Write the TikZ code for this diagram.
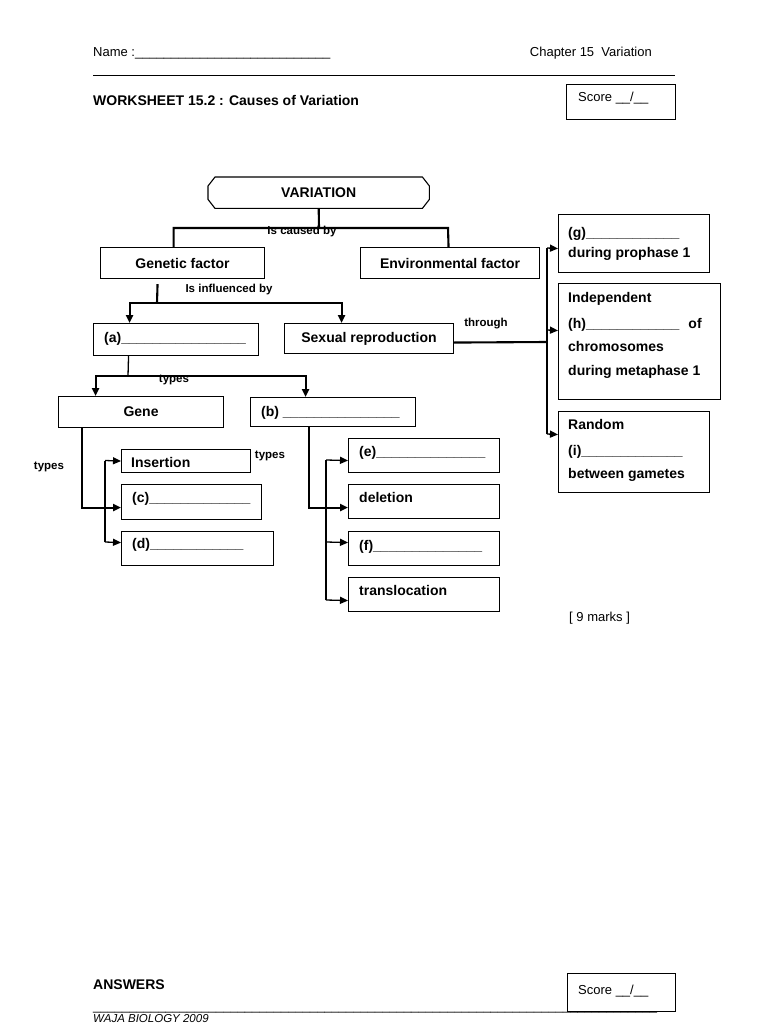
\documentclass[tikz,border=0pt]{standalone}
\usepackage{fontspec}
\setmainfont{Liberation Sans}
\usetikzlibrary{arrows.meta}
\newcommand\US[1]{\foreach\ui in {1,...,#1}{\_}}
\begin{document}
\begin{tikzpicture}[x=1pt,y=-1pt,
  box/.style={draw, line width=1.1pt, inner sep=0pt, anchor=north west},
  bf/.style={font=\bfseries\fontsize{14}{16}\selectfont},
  bt/.style={bf, inner sep=0pt, anchor=base west},
  nt/.style={font=\fontsize{13}{15}\selectfont, inner sep=0pt, anchor=base west},
  st/.style={font=\bfseries\fontsize{11.5}{13}\selectfont, inner sep=0pt, anchor=center},
  conn/.style={line width=2.1pt},
  thinc/.style={line width=1.3pt},
  arr/.style={-{Triangle[length=8pt,width=7pt]}}
]
\useasboundingbox (0,0) rectangle (768,1024);
\fill[white] (0,0) rectangle (768,1024);

% header
\node[nt] (name) at (93,57) {Name :\US{27}};
\node[nt, anchor=base east] (chap) at (652,57) {Chapter 15~ Variation};
\coordinate (rulel) at (93,76);
\coordinate (ruler) at (675,76);
\draw[line width=1pt] (rulel) -- (ruler);
\node[bt] (title) at (93,106) {WORKSHEET 15.2 : Causes of Variation};
\node[box, minimum width=109pt, minimum height=35pt] (score) at (566,84) {};
\node[nt] (scoret) at (578,102) {Score \_\_/\_\_};

% top boxes
\node[inner sep=0pt, anchor=north west, minimum width=221pt, minimum height=31pt, bf] (var) at (208,177) {VARIATION};
\draw[line width=1.1pt] ([xshift=7pt]var.north west) -- ([xshift=-7pt]var.north east)
  -- ([yshift=-9pt]var.north east) -- ([yshift=9pt]var.south east)
  -- ([xshift=-7pt]var.south east) -- ([xshift=7pt]var.south west)
  -- ([yshift=9pt]var.south west) -- ([yshift=-9pt]var.north west) -- cycle;
\node[box, minimum width=164pt, minimum height=31pt, bf] (gen) at (100,247) {Genetic factor};
\node[box, minimum width=179pt, minimum height=31pt, bf] (env) at (360,247) {Environmental factor};
\node[box, minimum width=165pt, minimum height=32pt] (a) at (93,323) {};
\node[bt] (at) at (104,342) {(a)\US{16}};
\node[box, minimum width=169pt, minimum height=30pt, bf] (sex) at (284,323) {Sexual reproduction};

% right boxes
\node[box, minimum width=151pt, minimum height=58pt] (g) at (558,214) {};
\node[bt] (g1) at (568,237) {(g)\US{12}};
\node[bt] (g2) at (568,257) {during prophase 1};
\node[box, minimum width=162pt, minimum height=116pt] (h) at (558,283) {};
\node[bt] (h1) at (568,302) {Independent};
\node[bt] (h2) at (568,328) {(h)\US{12}\hspace{9pt}of};
\node[bt] (h3) at (568,351) {chromosomes};
\node[bt] (h4) at (568,375) {during metaphase 1};
\node[box, minimum width=151pt, minimum height=81pt] (i) at (558,411) {};
\node[bt] (i1) at (568,429) {Random};
\node[bt] (i2) at (568,455) {(i)\US{13}};
\node[bt] (i3) at (568,478) {between gametes};

% lower boxes
\node[box, minimum width=165pt, minimum height=31pt, bf] (gene) at (58,396) {Gene};
\node[box, minimum width=165pt, minimum height=29pt] (b) at (250,397) {};
\node[bt] (bt1) at (261,416) {(b) \US{15}};
\node[box, minimum width=129pt, minimum height=23pt] (ins) at (121,449) {};
\node[bt] (inst) at (131,467) {Insertion};
\node[box, minimum width=140pt, minimum height=35pt] (c) at (121,484) {};
\node[bt] (ct) at (132,502) {(c)\US{13}};
\node[box, minimum width=152pt, minimum height=34pt] (d) at (121,531) {};
\node[bt] (dt) at (132,548) {(d)\US{12}};
\node[box, minimum width=151pt, minimum height=34pt] (e) at (348,438) {};
\node[bt] (et) at (359,456) {(e)\US{14}};
\node[box, minimum width=151pt, minimum height=34pt] (del) at (348,484) {};
\node[bt] (delt) at (359,502) {deletion};
\node[box, minimum width=151pt, minimum height=34pt] (f) at (348,531) {};
\node[bt] (ft) at (359,550) {(f)\US{14}};
\node[box, minimum width=151pt, minimum height=34pt] (tr) at (348,577) {};
\node[bt] (trt) at (359,595) {translocation};

\node[nt] (marks) at (569,621) {[ 9 marks ]};

% labels
\node[st] (lcause) at (302,232) {Is caused by};
\node[st] (linfl) at (229,290) {Is influenced by};
\node[st] (lthr) at (486,324) {through};
\node[st] (ltyp1) at (174,380) {types};
\node[st] (ltyp2) at (49,467) {types};
\node[st] (ltyp3) at (270,456) {types};

% connectors
\coordinate (j1) at (319,228);
\coordinate (j1r) at (448,228);
\draw[conn] (var.south) -- (j1);
\draw[conn] ([xshift=-9pt]gen.north) |- (j1r) -- ([xshift=-1.5pt]env.north);

\coordinate (j2) at (157,303);
\draw[conn] ([xshift=-25pt,yshift=-5pt]gen.south) -- (j2);
\draw[conn,arr] (j2) -| ([xshift=-46.5pt]a.north);
\draw[conn,arr] (j2) -| ([xshift=-27.5pt]sex.north);

\coordinate (j3) at (128,376);
\draw[thinc] ([xshift=-47.5pt]a.south) -- (j3);
\draw[conn,arr] (j3) -| ([xshift=-45.5pt]gene.north);
\draw[conn,arr] (j3) -| ([xshift=-27.5pt]b.north);

\draw[conn,arr] ([xshift=-59.5pt]gene.south) |- ([yshift=-5.5pt]c.west);
\coordinate (k1) at (105,460.5);
\coordinate (k3) at (105,542);
\draw[thinc] (k1) -- (k3);
\draw[thinc,arr] (k1) -- (ins.west);
\draw[thinc,arr] (k3) -- ([yshift=6pt]d.west);

\draw[conn,arr] ([xshift=-24.5pt]b.south) |- ([yshift=-6pt]del.west);
\coordinate (m1) at (326,460);
\coordinate (m3) at (326,542);
\coordinate (m4) at (326,600);
\draw[thinc] (m1) -- (m4);
\draw[thinc,arr] (m1) -- ([yshift=-5pt]e.west);
\draw[thinc,arr] (m3) -- ([yshift=6pt]f.west);
\draw[thinc,arr] (m4) -- ([yshift=-6pt]tr.west);

\coordinate (r1) at (547,248);
\coordinate (r2) at (547,342);
\coordinate (r3) at (547,330);
\coordinate (r4) at (547,434);
\draw[conn] ([yshift=-4pt]sex.east) -- (r2);
\draw[thinc] (r1) -- (r4);
\draw[thinc,arr] (r1) -- ([yshift=-5pt]g.west);
\draw[thinc,arr] (r3) -- ([yshift=11pt]h.west);
\draw[thinc,arr] (r4) -- ([yshift=17.5pt]i.west);

% footer
\node[bt] (ans) at (93,989) {ANSWERS};
\node[box, minimum width=108pt, minimum height=38pt] (score2) at (567,973) {};
\node[nt] (score2t) at (578,994) {Score \_\_/\_\_};
\node[nt] (foot) at (93,1010) {\US{78}};
\node[font=\itshape\fontsize{11.5}{13}\selectfont, inner sep=0pt, anchor=base west] (waja) at (93,1022.5) {WAJA BIOLOGY 2009};
\end{tikzpicture}
\end{document}
